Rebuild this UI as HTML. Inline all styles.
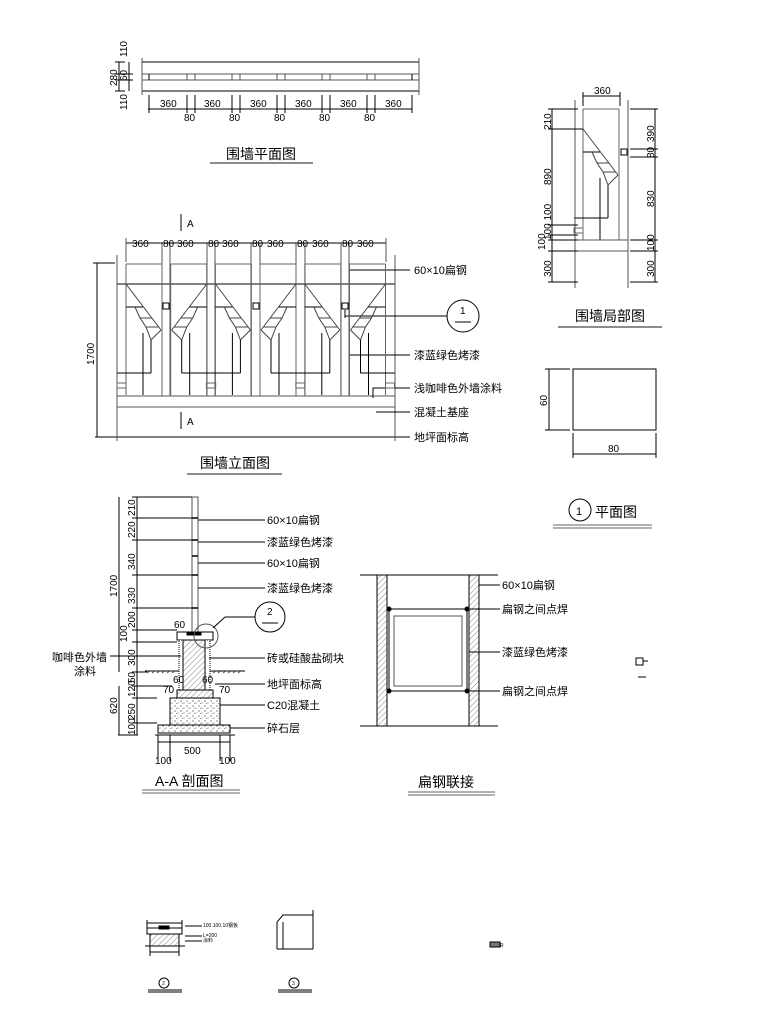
<!DOCTYPE html>
<html><head><meta charset="utf-8"><style>
html,body{margin:0;padding:0;background:#fff;}
svg{display:block;}
text{font-family:"Liberation Sans","Noto Sans CJK SC",sans-serif;fill:#000;}
.t{font-size:11px;}
.s{font-size:10px;}
.ti{font-size:14px;}
</style></head><body>
<svg width="760" height="1013" viewBox="0 0 760 1013" xmlns="http://www.w3.org/2000/svg">
<defs>
<pattern id="hat" width="4" height="4" patternUnits="userSpaceOnUse" patternTransform="rotate(45)"><line x1="0" y1="0" x2="0" y2="4" stroke="#555" stroke-width="0.7"/></pattern>
<pattern id="dots" width="6" height="5" patternUnits="userSpaceOnUse"><circle cx="1" cy="1" r="0.6" fill="#333"/><circle cx="4" cy="3" r="0.5" fill="#333"/><path d="M2 4 l1 -1" stroke="#333" stroke-width="0.5"/></pattern>
<g id="panel" fill="none" stroke="#000" stroke-width="1">
<line x1="0" y1="264" x2="36" y2="264" stroke="#666"/>
<line x1="0" y1="264" x2="0" y2="395" stroke="#666"/>
<line x1="36" y1="264" x2="36" y2="395" stroke="#666"/>
<line x1="0" y1="284" x2="35" y2="330" stroke="#444"/>
<line x1="0" y1="307" x2="17" y2="307"/>
<polyline points="9,307 14,318 20,327 25,340 35,330" stroke="#444"/>
<line x1="14" y1="318" x2="26" y2="318" stroke="#444"/>
<line x1="20" y1="327" x2="33" y2="327" stroke="#444"/>
<line x1="17" y1="333" x2="17" y2="395"/>
<line x1="25" y1="340" x2="25" y2="373"/>
<line x1="-9" y1="373" x2="25" y2="373"/>
<rect x="-9" y="383" width="9" height="5" stroke="#666"/>
</g>
</defs>

<!-- ===== Plan view 围墙平面图 ===== -->
<g stroke="#000" stroke-width="1" fill="none">
<line x1="142" y1="62" x2="419" y2="62"/>
<line x1="142" y1="74" x2="419" y2="74" stroke="#555"/>
<line x1="142" y1="80" x2="419" y2="80" stroke="#555"/>
<line x1="142" y1="91" x2="419" y2="91"/>
<line x1="142" y1="58" x2="142" y2="95" stroke="#555"/>
<line x1="419" y1="58" x2="419" y2="95" stroke="#555"/>
<rect x="187" y="74" width="8" height="6" stroke="#555"/>
<rect x="232" y="74" width="8" height="6" stroke="#555"/>
<rect x="277" y="74" width="8" height="6" stroke="#555"/>
<rect x="322" y="74" width="8" height="6" stroke="#555"/>
<rect x="367" y="74" width="8" height="6" stroke="#555"/>
<line x1="149" y1="74" x2="149" y2="80"/><line x1="412" y1="74" x2="412" y2="80"/>
<line x1="148" y1="109" x2="412" y2="109"/>
<path d="M149 95v18M187 95v18M195 95v18M232 95v18M240 95v18M277 95v18M285 95v18M322 95v18M330 95v18M367 95v18M375 95v18M412 95v18"/>
<line x1="119" y1="62" x2="119" y2="91"/>
<line x1="129" y1="62" x2="129" y2="91"/>
<path d="M115 62h10M115 74h18M115 80h18M115 91h10"/>
</g>
<g class="s">
<text x="160" y="107">360</text><text x="204" y="107">360</text><text x="250" y="107">360</text><text x="295" y="107">360</text><text x="340" y="107">360</text><text x="385" y="107">360</text>
<text x="184" y="121">80</text><text x="229" y="121">80</text><text x="274" y="121">80</text><text x="319" y="121">80</text><text x="364" y="121">80</text>
<text transform="translate(127,57) rotate(-90)">110</text>
<text transform="translate(117,86) rotate(-90)">280</text>
<text transform="translate(127,81) rotate(-90)">60</text>
<text transform="translate(127,110) rotate(-90)">110</text>
</g>
<text class="ti" x="226" y="159">围墙平面图</text>
<line x1="210" y1="163" x2="313" y2="163" stroke="#666" stroke-width="1.5"/>

<!-- ===== Elevation 围墙立面图 ===== -->
<g stroke="#000" stroke-width="1" fill="none">
<line x1="117" y1="284" x2="395" y2="284"/>
<line x1="117" y1="396" x2="395" y2="396" stroke="#555"/>
<line x1="117" y1="407" x2="395" y2="407" stroke="#555"/>
<line x1="95" y1="437" x2="410" y2="437"/>
<line x1="117" y1="255" x2="117" y2="441" stroke="#555"/>
<line x1="395" y1="255" x2="395" y2="441" stroke="#555"/>
<path d="M162 243v153M170 243v153M207 243v153M215 243v153M251 243v153M260 243v153M296 243v153M305 243v153M341 243v153M349 243v153" stroke="#555"/>
<rect x="163" y="303" width="6" height="6"/>
<rect x="253" y="303" width="6" height="6"/>
<rect x="342" y="303" width="6" height="6"/>
<line x1="126" y1="243" x2="386" y2="243"/>
<line x1="126" y1="238" x2="126" y2="262" stroke="#555"/>
<line x1="386" y1="238" x2="386" y2="262" stroke="#555"/>
<line x1="97" y1="263" x2="97" y2="437"/>
<line x1="93" y1="263" x2="115" y2="263"/>
<line x1="181" y1="214" x2="181" y2="231"/>
<line x1="181" y1="412" x2="181" y2="429"/>
<!-- leaders -->
<line x1="350" y1="270" x2="410" y2="270"/>
<line x1="345" y1="316" x2="447" y2="316"/><line x1="345" y1="310" x2="345" y2="318"/>
<circle cx="463" cy="316" r="16"/><line x1="455" y1="322" x2="471" y2="322"/>
<line x1="350" y1="355" x2="410" y2="355"/>
<polyline points="373,398 373,388 410,388"/>
<line x1="376" y1="412" x2="410" y2="412"/>
</g>
<use href="#panel" x="126"/>
<use href="#panel" transform="translate(206.7,0) scale(-1,1)"/>
<use href="#panel" x="215.4"/>
<use href="#panel" transform="translate(296,0) scale(-1,1)"/>
<use href="#panel" x="304.8"/>
<use href="#panel" transform="translate(385.5,0) scale(-1,1)"/>
<g class="s">
<text x="132" y="247">360</text><text x="163" y="247">80</text><text x="177" y="247">360</text><text x="208" y="247">80</text><text x="222" y="247">360</text><text x="252" y="247">80</text><text x="267" y="247">360</text><text x="297" y="247">80</text><text x="312" y="247">360</text><text x="342" y="247">80</text><text x="357" y="247">360</text>
<text transform="translate(94,365) rotate(-90)">1700</text>
<text x="187" y="227">A</text><text x="187" y="425">A</text>
<text x="460" y="314">1</text>
</g>
<g class="t">
<text x="414" y="274">60×10扁钢</text>
<text x="414" y="359">漆蓝绿色烤漆</text>
<text x="414" y="392">浅咖啡色外墙涂料</text>
<text x="414" y="416">混凝土基座</text>
<text x="414" y="441">地坪面标高</text>
</g>
<text class="ti" x="200" y="468">围墙立面图</text>
<line x1="187" y1="474" x2="282" y2="474" stroke="#666" stroke-width="1.5"/>

<!-- ===== 围墙局部图 ===== -->
<use href="#panel" transform="translate(583,-155)"/>
<g stroke="#000" stroke-width="1" fill="none">
<line x1="575" y1="100" x2="575" y2="288" stroke="#555"/>
<line x1="628" y1="100" x2="628" y2="288" stroke="#555"/>
<line x1="575" y1="129" x2="583" y2="129"/>
<line x1="575" y1="240" x2="628" y2="240" stroke="#555"/>
<line x1="575" y1="251" x2="628" y2="251" stroke="#555"/>
<rect x="621" y="149" width="6" height="6"/>
<line x1="583" y1="96" x2="620" y2="96"/><path d="M583 92v14M620 92v14"/>
<line x1="552" y1="109" x2="552" y2="282"/>
<path d="M548 109h30M548 129h30M548 225h30M548 235h30M548 240h30M548 251h30M548 282h30"/>
<line x1="655" y1="109" x2="655" y2="282"/>
<path d="M630 109h28M630 149h28M630 157h28M630 240h28M630 251h28M630 282h28"/>
</g>
<g class="s">
<text x="594" y="94">360</text>
<text transform="translate(551,130) rotate(-90)">210</text>
<text transform="translate(551,185) rotate(-90)">890</text>
<text transform="translate(551,240) rotate(-90)">100 100</text>
<text transform="translate(545,250) rotate(-90)">100</text>
<text transform="translate(551,277) rotate(-90)">300</text>
<text transform="translate(654,142) rotate(-90)">390</text>
<text transform="translate(654,158) rotate(-90)">80</text>
<text transform="translate(654,207) rotate(-90)">830</text>
<text transform="translate(654,251) rotate(-90)">100</text>
<text transform="translate(654,277) rotate(-90)">300</text>
</g>
<text class="ti" x="575" y="321">围墙局部图</text>
<line x1="558" y1="327" x2="662" y2="327" stroke="#666" stroke-width="1.5"/>

<!-- ===== 1 平面图 ===== -->
<g stroke="#000" stroke-width="1" fill="none">
<rect x="573" y="369" width="83" height="61"/>
<line x1="549" y1="369" x2="549" y2="430"/><path d="M545 369h25M545 430h25"/>
<line x1="573" y1="454" x2="656" y2="454"/><path d="M573 433v25M656 433v25"/>
<circle cx="580" cy="510" r="11"/>
<line x1="553" y1="525" x2="652" y2="525" stroke="#666"/>
<line x1="553" y1="528" x2="652" y2="528" stroke="#666"/>
</g>
<text class="s" transform="translate(547,406) rotate(-90)">60</text>
<text class="s" x="608" y="452">80</text>
<text class="t" x="576" y="515">1</text>
<text class="ti" x="595" y="517">平面图</text>

<!-- ===== A-A section ===== -->
<g stroke="#000" stroke-width="1" fill="none">
<rect x="192" y="497" width="6" height="135" stroke="#555"/>
<path d="M192 518h6M192 540h6M192 556h6M192 575h6M192 608h6" stroke="#000" stroke-width="1.5"/>
<rect x="177" y="632" width="36" height="8" fill="#fff"/>
<rect x="187" y="632" width="14" height="3" fill="#000"/>
<rect x="179" y="640" width="31" height="50" fill="#fff" stroke-dasharray="1 1"/>
<rect x="183" y="640" width="22" height="50" fill="url(#hat)"/>
<rect x="177" y="690" width="36" height="8" fill="url(#hat)"/>
<rect x="170" y="698" width="50" height="27" fill="url(#dots)"/>
<rect x="158" y="725" width="72" height="8" fill="url(#dots)"/>
<line x1="145" y1="671" x2="179" y2="671"/><line x1="210" y1="671" x2="245" y2="671"/>
<path d="M147 673l3 -2M152 673l3 -2M157 673l3 -2M162 673l3 -2M167 673l3 -2M172 673l3 -2M213 673l3 -2M218 673l3 -2M223 673l3 -2M228 673l3 -2M233 673l3 -2M238 673l3 -2" stroke="#555"/>
<line x1="155" y1="735" x2="235" y2="735"/>
<circle cx="206" cy="636" r="12" stroke="#555"/>
<line x1="213" y1="628" x2="225" y2="617"/><line x1="225" y1="617" x2="255" y2="617"/>
<circle cx="270" cy="617" r="15"/><line x1="262" y1="623" x2="278" y2="623"/>
<line x1="119" y1="497" x2="119" y2="672"/>
<line x1="137" y1="497" x2="137" y2="735"/>
<line x1="119" y1="686" x2="119" y2="735"/>
<path d="M132 497h60M132 518h60M132 540h60M132 575h60M132 608h60M132 630h45M132 642h45M132 672h15M132 686h40M132 698h25M132 723h25M118 735h20"/>
<line x1="158" y1="742" x2="230" y2="742"/>
<path d="M158 735v26M170 735v26M220 735v26M230 735v26"/>
<line x1="198" y1="520" x2="265" y2="520"/>
<line x1="198" y1="542" x2="265" y2="542"/>
<line x1="198" y1="563" x2="265" y2="563"/>
<line x1="198" y1="588" x2="265" y2="588"/>
<line x1="209" y1="658" x2="265" y2="658"/>
<line x1="215" y1="684" x2="265" y2="684"/>
<line x1="220" y1="705" x2="265" y2="705"/>
<line x1="230" y1="728" x2="265" y2="728"/>
<line x1="110" y1="656" x2="181" y2="656"/>
<line x1="142" y1="790" x2="240" y2="790" stroke="#666"/>
<line x1="142" y1="793" x2="240" y2="793" stroke="#666"/>
</g>
<g class="s">
<text transform="translate(135,516) rotate(-90)">210</text>
<text transform="translate(135,538) rotate(-90)">220</text>
<text transform="translate(135,570) rotate(-90)">340</text>
<text transform="translate(135,604) rotate(-90)">330</text>
<text transform="translate(135,628) rotate(-90)">200</text>
<text transform="translate(127,642) rotate(-90)">100</text>
<text transform="translate(135,666) rotate(-90)">300</text>
<text transform="translate(135,683) rotate(-90)">50</text>
<text transform="translate(135,697) rotate(-90)">120</text>
<text transform="translate(135,720) rotate(-90)">250</text>
<text transform="translate(135,735) rotate(-90)">100</text>
<text transform="translate(117,597) rotate(-90)">1700</text>
<text transform="translate(117,714) rotate(-90)">620</text>
<text x="174" y="628">60</text>
<text x="173" y="683">60</text><text x="202" y="683">60</text>
<text x="163" y="693">70</text><text x="219" y="693">70</text>
<text x="184" y="754">500</text>
<text x="155" y="764">100</text><text x="219" y="764">100</text>
<text x="267" y="615">2</text>
</g>
<g class="t">
<text x="267" y="524">60×10扁钢</text>
<text x="267" y="546">漆蓝绿色烤漆</text>
<text x="267" y="567">60×10扁钢</text>
<text x="267" y="592">漆蓝绿色烤漆</text>
<text x="267" y="662">砖或硅酸盐砌块</text>
<text x="267" y="688">地坪面标高</text>
<text x="267" y="709">C20混凝土</text>
<text x="267" y="732">碎石层</text>
<text x="52" y="661">咖啡色外墙</text>
<text x="74" y="675">涂料</text>
</g>
<text class="ti" x="155" y="786">A-A 剖面图</text>

<!-- ===== 扁钢联接 ===== -->
<g stroke="#000" stroke-width="1" fill="none">
<line x1="360" y1="575" x2="498" y2="575"/>
<line x1="360" y1="726" x2="498" y2="726"/>
<rect x="377" y="575" width="10" height="151" fill="url(#hat)"/>
<rect x="469" y="575" width="10" height="151" fill="url(#hat)"/>
<rect x="389" y="609" width="78" height="82" stroke-width="1.5" stroke="#555"/>
<rect x="394" y="616" width="68" height="70" stroke="#555"/>
<line x1="479" y1="585" x2="500" y2="585"/>
<line x1="467" y1="609" x2="500" y2="609"/>
<line x1="469" y1="652" x2="500" y2="652"/>
<line x1="467" y1="691" x2="500" y2="691"/>
<line x1="408" y1="792" x2="495" y2="792" stroke="#666"/>
<line x1="408" y1="795" x2="495" y2="795" stroke="#666"/>
</g>
<g fill="#000"><circle cx="389" cy="609" r="2.5"/><circle cx="467" cy="609" r="2.5"/><circle cx="389" cy="691" r="2.5"/><circle cx="467" cy="691" r="2.5"/></g>
<g class="t">
<text x="502" y="589">60×10扁钢</text>
<text x="502" y="613">扁钢之间点焊</text>
<text x="502" y="656">漆蓝绿色烤漆</text>
<text x="502" y="695">扁钢之间点焊</text>
</g>
<text class="ti" x="418" y="787">扁钢联接</text>
<g stroke="#000" fill="none"><rect x="636" y="658" width="7" height="7"/><line x1="643" y1="661" x2="648" y2="661"/><line x1="638" y1="677" x2="646" y2="677"/></g>

<!-- ===== bottom tiny details ===== -->
<g stroke="#000" stroke-width="1" fill="none">
<rect x="147" y="928" width="35" height="6" fill="#fff"/>
<rect x="159" y="926" width="10" height="3" fill="#000"/>
<rect x="150" y="934" width="29" height="12" fill="url(#hat)"/>
<line x1="145" y1="946" x2="185" y2="946"/>
<path d="M150 946v10M179 946v10M150 952h29M147 920v10M182 920v10M147 923h35"/>
<line x1="185" y1="926" x2="202" y2="926"/><line x1="185" y1="936" x2="202" y2="936"/><line x1="185" y1="941" x2="202" y2="941"/>
<circle cx="164" cy="983" r="5"/>
<line x1="148" y1="990" x2="182" y2="990"/><line x1="148" y1="992" x2="182" y2="992"/>
<polyline points="277,949 277,922 283,915 313,915"/>
<line x1="283" y1="922" x2="283" y2="949"/>
<line x1="313" y1="910" x2="313" y2="949"/>
<line x1="277" y1="949" x2="313" y2="949"/>
<circle cx="294" cy="983" r="5"/>
<line x1="278" y1="990" x2="312" y2="990"/><line x1="278" y1="992" x2="312" y2="992"/>
<rect x="490" y="942" width="10" height="5" fill="#777"/>
</g>
<g style="font-size:5px">
<text x="203" y="927">100.100.10钢板</text>
<text x="203" y="937">L=200</text>
<text x="203" y="942">涂料</text>
<text x="162" y="985">2</text>
<text x="292" y="985">3</text>
<text x="500" y="947">R</text>
</g>
</svg>
</body></html>
